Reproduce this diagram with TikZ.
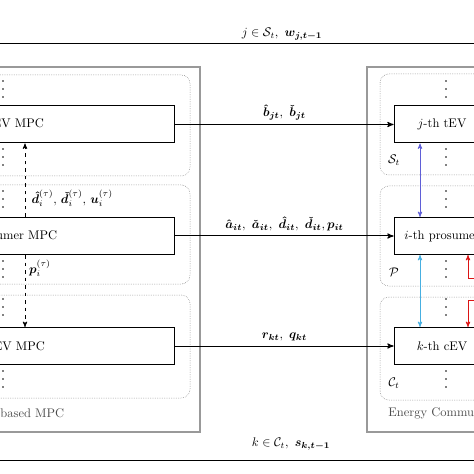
\documentclass[tikz,border=0pt]{standalone}
\usepackage{amsmath,amssymb,bm}
\usepackage{xcolor}
\usetikzlibrary{positioning}
\usetikzlibrary{arrows}
\usetikzlibrary{shapes}

\definecolor{tevblue}{RGB}{95,95,215}
\definecolor{cevblue}{RGB}{70,175,225}
\definecolor{gridred}{RGB}{220,20,20}
\newcommand{\dotcol}{\tikz[baseline]{\foreach \k in {0,1,2} \fill (0,\k*6.4pt) circle (0.75pt);}}

\begin{document}
\begin{tikzpicture}[x=0.8pt,y=-0.8pt,>=stealth',
mpc/.style={draw=black,thick,fill=white,rectangle,inner sep=0pt,
minimum width=275pt,minimum height=29.6pt},
agent/.style={draw=black,thick,fill=white,rectangle,inner sep=0pt,
minimum width=76.8pt,minimum height=29.6pt},
frame/.style={draw=black!40,line width=1.6pt},
group/.style={draw=black!60,densely dotted,rounded corners=7pt},
msg/.style={thick,->},
feedback/.style={semithick,dashed,->},
couple/.style={semithick,<->},
setlbl/.style={inner sep=0pt}]
\useasboundingbox (0,0) rectangle (474,474);
\clip (0,0) rectangle (474,474);

% outer frames and groups
\draw[frame] (-200,67) rectangle (200,432);
\draw[frame] (367,67) rectangle (720,432);
\draw[group] (-190,75) rectangle (190,176);
\draw[group] (-190,185) rectangle (190,284);
\draw[group] (-190,295) rectangle (190,398);
\draw[group] (380,74) rectangle (700,175);
\draw[group] (380,186) rectangle (700,286);
\draw[group] (380,297) rectangle (700,400);

% MPC side
\node[mpc] (tevmpc) at (3,124.5) {$j$-th tEV MPC};
\node[mpc] (prosmpc) at (3,236) {$i$-th prosumer MPC};
\node[mpc] (cevmpc) at (3,346) {$k$-th cEV MPC};
\node[anchor=west,text=black!70] (mpclbl) at (-4,413) {based MPC};

% community side
\node[agent] (tev) at (442,124.5) {$j$-th tEV};
\node[agent] (pros) at (442,236) {$i$-th prosumer};
\node[agent] (cev) at (442,346) {$k$-th cEV};
\node[anchor=west,text=black!70] (comlbl) at (384,413) {Energy Community};
\node[setlbl] (st) at (394,160) {$\mathcal{S}_t$};
\node[setlbl] (pset) at (394,272) {$\mathcal{P}$};
\node[setlbl] (ct) at (394,383) {$\mathcal{C}_t$};

% dots
\foreach \y [count=\n] in {89,157,199,269,307,379} {
  \node[inner sep=0pt] (dl\n) at (3,\y) {\dotcol};
  \node[inner sep=0pt] (dr\n) at (446,\y) {\dotcol};
}

% messages
\draw[msg] (tevmpc) -- (tev) node[midway,above]
  {$\bm{\hat{b}_{jt}},\ \bm{\check{b}_{jt}}$};
\draw[msg] (prosmpc) -- (pros) node[midway,above]
  {$\bm{\hat{a}_{it}},\ \bm{\check{a}_{it}},\ \bm{\hat{d}_{it}},\ \bm{\check{d}_{it}},\bm{p_{it}}$};
\draw[msg] (cevmpc) -- (cev) node[midway,above]
  {$\bm{r_{kt}},\ \bm{q_{kt}}$};

% feedback inside MPC
\coordinate (fb) at (25,0);
\draw[feedback] (fb |- prosmpc.north) -- (fb |- tevmpc.south)
  node[pos=0.25,right,inner sep=2pt,xshift=3pt]
  {$\bm{\hat{d}}_i^{(\tau)},\,\bm{\check{d}}_i^{(\tau)},\,\bm{u}_i^{(\tau)}$};
\draw[feedback] (fb |- prosmpc.south) -- (fb |- cevmpc.north)
  node[pos=0.19,right,inner sep=2pt,xshift=1pt] {$\bm{p}_i^{(\tau)}$};

% coupling inside community
\coordinate (cp) at (420,0);
\draw[couple,tevblue] (cp |- tev.south) -- (cp |- pros.north);
\draw[couple,cevblue] (cp |- pros.south) -- (cp |- cev.north);
\coordinate (rl) at (468,0);
\coordinate (redin) at (540,278);
\coordinate (redout) at (540,300);
\draw[semithick,gridred,->] (redin) -| (rl |- pros.south);
\draw[semithick,gridred,->] (redout) -| (rl |- cev.north);

% outer loops
\coordinate (topL) at (-10,44);
\coordinate (topR) at (490,44);
\coordinate (botL) at (-10,460);
\coordinate (botR) at (490,460);
\draw[thick] (topL) -- (topR);
\draw[thick] (botL) -- (botR);
\node (toplbl) at (282,34) {$j\in\mathcal{S}_t,\ \bm{w_{j,t-1}}$};
\node (botlbl) at (291,444) {$k\in\mathcal{C}_t,\ \bm{s_{k,t-1}}$};
\end{tikzpicture}
\end{document}
